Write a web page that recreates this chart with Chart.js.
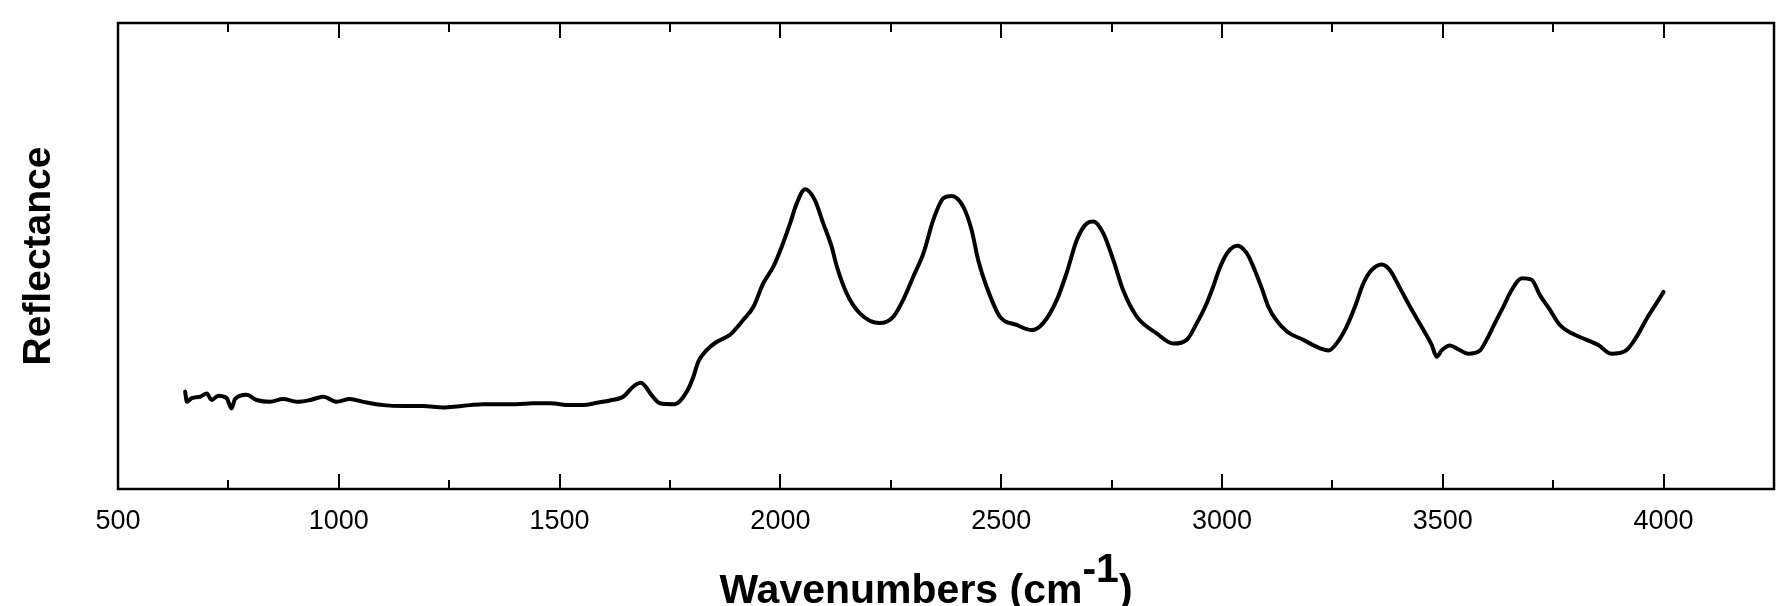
<!DOCTYPE html>
<html>
<head>
<meta charset="utf-8">
<script src="https://cdn.jsdelivr.net/npm/chart.js@4.4.1/dist/chart.umd.min.js"></script>
<style>
  html, body { margin: 0; padding: 0; background: #fff; }
  canvas { display: block; }
</style>
</head>
<body>
<canvas id="c" width="1792" height="606"></canvas>
<script>
// ---- data ----
const wavenumbers = [
  652, 656, 667, 686, 701, 712, 727, 746, 757, 765, 791, 814, 844, 874, 905, 935, 965, 995,
  1025, 1056, 1101, 1146, 1191, 1237, 1267, 1297, 1327, 1373, 1403, 1440, 1478, 1524, 1554,
  1584, 1614, 1644, 1667, 1684, 1711, 1727, 1761, 1788, 1803, 1814, 1833, 1856, 1886, 1916,
  1939, 1961, 1984, 2003, 2022, 2037, 2056, 2078, 2097, 2116, 2128, 2150, 2180, 2225, 2256,
  2278, 2301, 2324, 2346, 2369, 2388, 2414, 2433, 2448, 2467, 2497, 2535, 2569, 2595, 2626,
  2648, 2671, 2694, 2709, 2731, 2754, 2776, 2807, 2852, 2890, 2920, 2943, 2962, 2980, 2996,
  3014, 3035, 3056, 3071, 3090, 3105, 3120, 3147, 3184, 3222, 3241, 3260, 3282, 3301, 3320,
  3339, 3362, 3380, 3403, 3430, 3452, 3475, 3486, 3498, 3516, 3535, 3558, 3584, 3599, 3618,
  3637, 3656, 3679, 3701, 3720, 3743, 3765, 3792, 3826, 3852, 3882, 3916, 3939, 3962, 3984, 4000
];
const reflectance = [
  20.9, 18.7, 19.5, 19.8, 20.5, 19.1, 20.0, 19.5, 17.3, 19.3, 20.2, 19.1, 18.7, 19.3, 18.7, 19.1, 19.8, 18.7,
  19.3, 18.7, 18.0, 17.8, 17.8, 17.5, 17.7, 18.0, 18.2, 18.2, 18.2, 18.4, 18.4, 18.0, 18.0,
  18.5, 19.0, 19.8, 22.0, 22.8, 19.8, 18.4, 18.2, 20.9, 24.1, 27.3, 29.8, 31.6, 33.1, 36.3,
  39.1, 44.1, 47.7, 52.0, 57.0, 61.3, 64.3, 62.0, 57.0, 52.0, 47.7, 42.0, 37.7, 35.6, 37.0,
  40.6, 45.6, 50.6, 57.7, 62.4, 62.9, 60.6, 55.6, 49.1, 43.4, 37.0, 35.2, 34.1, 35.6, 40.6,
  46.3, 53.4, 57.0, 57.4, 54.9, 49.1, 42.7, 37.0, 33.4, 31.2, 32.0, 35.6, 39.1, 43.4, 47.7,
  50.9, 52.2, 50.6, 47.7, 43.1, 39.1, 36.6, 33.8, 32.0, 30.2, 29.7, 31.3, 34.8, 39.1, 44.1,
  47.0, 48.2, 47.0, 43.1, 38.4, 34.8, 30.9, 28.4, 29.8, 30.8, 30.0, 29.0, 29.7, 32.0, 35.6,
  39.1, 42.7, 45.2, 44.9, 41.6, 38.4, 35.2, 33.4, 32.0, 30.9, 29.0, 29.8, 32.7, 36.6, 39.9, 42.3
];
const majorTickLabels = [500, 1000, 1500, 2000, 2500, 3000, 3500, 4000];
const xTitleMain = 'Wavenumbers (cm';
const xTitleSup = '-1';
const xTitleEnd = ')';
const yTitleText = 'Reflectance';

const FONT = "Arial, 'Liberation Sans', Helvetica, sans-serif";

const framePlugin = {
  id: 'frame',
  beforeDraw(chart) {
    const ctx = chart.ctx;
    ctx.save();
    ctx.fillStyle = '#fff';
    ctx.fillRect(0, 0, chart.width, chart.height);
    ctx.restore();
  },
  afterDraw(chart) {
    const { ctx, chartArea: a, scales: { x } } = chart;
    ctx.save();
    ctx.strokeStyle = '#000';
    ctx.lineWidth = 2.5;
    ctx.strokeRect(a.left, a.top, a.right - a.left, a.bottom - a.top);
    ctx.lineWidth = 2;
    ctx.beginPath();
    x.ticks.forEach(t => {
      const px = Math.round(x.getPixelForValue(t.value));
      const len = majorTickLabels.includes(t.value) ? 15 : 9;
      ctx.moveTo(px, a.bottom);
      ctx.lineTo(px, a.bottom - len);
      ctx.moveTo(px, a.top);
      ctx.lineTo(px, a.top + len);
    });
    ctx.stroke();

    // x-axis title with a raised "-1"
    ctx.fillStyle = '#000';
    ctx.font = 'bold 41px ' + FONT;
    ctx.textBaseline = 'alphabetic';
    ctx.textAlign = 'left';
    const w1 = ctx.measureText(xTitleMain).width;
    const w2 = ctx.measureText(xTitleSup).width;
    const w3 = ctx.measureText(xTitleEnd).width;
    const total = w1 + w2 + w3;
    let sx = (a.left + a.right) / 2 - 20 - total / 2;
    const base = chart.height - 3;
    ctx.fillText(xTitleMain, sx, base); sx += w1;
    ctx.fillText(xTitleSup, sx, base - 21); sx += w2;
    ctx.fillText(xTitleEnd, sx, base);
    ctx.restore();
  }
};

const points = wavenumbers.map((w, i) => ({ x: w, y: reflectance[i] }));

new Chart(document.getElementById('c'), {
  type: 'line',
  data: {
    datasets: [{
      data: points,
      borderColor: '#000',
      borderWidth: 4,
      pointRadius: 0,
      cubicInterpolationMode: 'monotone',
      borderJoinStyle: 'round',
      borderCapStyle: 'round',
      fill: false
    }]
  },
  options: {
    responsive: false,
    devicePixelRatio: 1,
    animation: false,
    layout: { padding: { top: 23, right: 18, left: 0, bottom: 0 } },
    plugins: { legend: { display: false }, tooltip: { enabled: false } },
    scales: {
      x: {
        type: 'linear',
        min: 500,
        max: 4250,
        afterFit: s => { s.height = 117; },
        grid: { display: false, drawTicks: false },
        border: { display: false },
        ticks: {
          stepSize: 250,
          autoSkip: false,
          maxRotation: 0,
          padding: 16,
          color: '#000',
          font: { family: FONT, size: 27 },
          callback: v => majorTickLabels.includes(v) ? String(v) : ''
        }
      },
      y: {
        min: 0,
        max: 100,
        afterFit: s => { s.width = 118; },
        grid: { display: false, drawTicks: false },
        border: { display: false },
        ticks: { display: false },
        title: {
          display: true,
          text: yTitleText,
          color: '#000',
          font: { family: FONT, size: 39, weight: 'bold' },
          padding: { top: 16, bottom: 0 }
        }
      }
    }
  },
  plugins: [framePlugin]
});
</script>
</body>
</html>
